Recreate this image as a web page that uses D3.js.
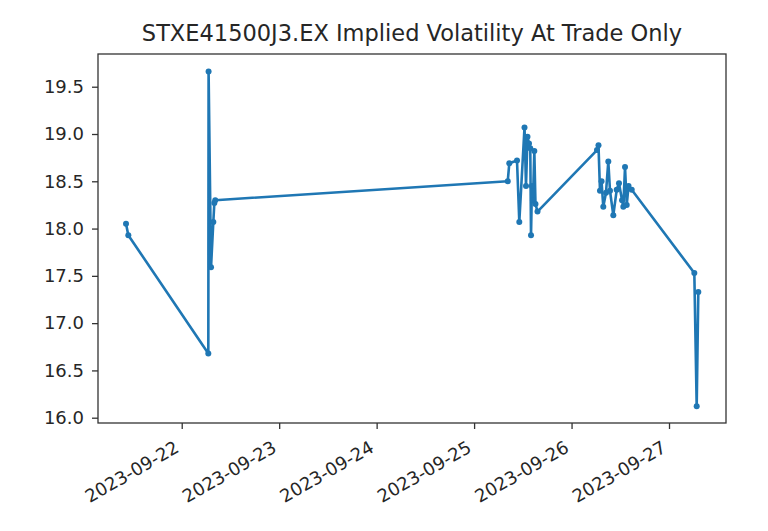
<!DOCTYPE html>
<html>
<head>
<meta charset="utf-8">
<script src="https://cdn.jsdelivr.net/npm/d3@7"></script>
<style>
  body { margin: 0; background: #fff; }
  text { font-family: "DejaVu Sans", sans-serif; fill: #262626; }
</style>
</head>
<body>
<div id="chart"></div>
<script>
// trade times (UTC) and implied vol
var tradeTimes = [
  "2023-09-21 10:17", "2023-09-21 10:51",
  "2023-09-22 06:33", "2023-09-22 06:37", "2023-09-22 07:13", "2023-09-22 07:47", "2023-09-22 08:02", "2023-09-22 08:15",
  "2023-09-25 08:17", "2023-09-25 08:40", "2023-09-25 10:34", "2023-09-25 11:08", "2023-09-25 12:25", "2023-09-25 12:47",
  "2023-09-25 13:09", "2023-09-25 13:31", "2023-09-25 13:50", "2023-09-25 14:01", "2023-09-25 14:15", "2023-09-25 14:30",
  "2023-09-25 14:50", "2023-09-25 15:07", "2023-09-25 15:37",
  "2023-09-26 06:16", "2023-09-26 06:38", "2023-09-26 07:00", "2023-09-26 07:23", "2023-09-26 07:49", "2023-09-26 08:29",
  "2023-09-26 09:03", "2023-09-26 09:28", "2023-09-26 10:17", "2023-09-26 11:07", "2023-09-26 11:41", "2023-09-26 12:26",
  "2023-09-26 12:45", "2023-09-26 13:10", "2023-09-26 13:35", "2023-09-26 14:02", "2023-09-26 14:49",
  "2023-09-27 06:14", "2023-09-27 06:49", "2023-09-27 07:13"
]
var impliedVol = [
  18.05, 17.93,
  16.68, 19.66, 17.59, 18.07, 18.27, 18.30,
  18.50, 18.69, 18.72, 18.07, 19.07, 18.45,
  18.97, 18.90, 18.85, 17.93, 18.45, 18.30,
  18.82, 18.26, 18.18,
  18.83, 18.88, 18.40, 18.50, 18.23, 18.38,
  18.71, 18.40, 18.14, 18.41, 18.48, 18.30,
  18.23, 18.65, 18.25, 18.45, 18.41,
  17.53, 16.12, 17.33
]
var yTicks = [16.0, 16.5, 17.0, 17.5, 18.0, 18.5, 19.0, 19.5]
var xTickDays = ["2023-09-22", "2023-09-23", "2023-09-24", "2023-09-25", "2023-09-26", "2023-09-27"]
var xDomain = ["2023-09-21 03:23", "2023-09-27 14:02"]
var yDomain = [15.944, 19.846]
var title = "STXE41500J3.EX Implied Volatility At Trade Only"

const width = 768, height = 531
const box = {left: 98, right: 726, top: 54, bottom: 423}
const blue = "#1f77b4"

var parseTime = d3.utcParse("%Y-%m-%d %H:%M"), parseDay = d3.utcParse("%Y-%m-%d")
var data = tradeTimes.map((t, i) => ({t: parseTime(t), v: impliedVol[i]}))

var svg = d3.select("#chart").append("svg").attr("width", width).attr("height", height)

var x = d3.scaleUtc().domain(xDomain.map(parseTime)).range([box.left, box.right])
var y = d3.scaleLinear().domain(yDomain).range([box.bottom, box.top])

// y axis
var yAxis = d3.axisLeft(y).tickValues(yTicks).tickSize(6).tickPadding(8).tickFormat(d3.format(".1f"))
var gy = svg.append("g").attr("transform", "translate(" + box.left + ",0)").call(yAxis)
gy.select(".domain").remove()
gy.selectAll(".tick line").attr("stroke", "#333").attr("stroke-width", 1.3)
gy.selectAll(".tick text").style("font-size", "18px").attr("fill", "#262626")

// x axis with rotated labels (30 deg, right aligned)
var xAxis = d3.axisBottom(x).tickValues(xTickDays.map(parseDay)).tickSize(6).tickFormat(d3.utcFormat("%Y-%m-%d"))
var gx = svg.append("g").attr("transform", "translate(0," + box.bottom + ")").call(xAxis)
gx.select(".domain").remove()
gx.selectAll(".tick line").attr("stroke", "#333").attr("stroke-width", 1.3)
gx.selectAll(".tick text")
  .style("font-size", "18px").attr("fill", "#262626")
  .attr("text-anchor", "end")
  .attr("y", 0).attr("dy", 0)
  .attr("transform", "translate(-2,28) rotate(-30)")

// line + markers
var line = d3.line().x(d => x(d.t)).y(d => y(d.v))
svg.append("path").datum(data).attr("d", line)
  .attr("fill", "none").attr("stroke", blue).attr("stroke-width", 2.6).attr("stroke-linejoin", "round")
svg.selectAll("circle.pt").data(data).enter().append("circle").attr("class", "pt")
  .attr("cx", d => x(d.t)).attr("cy", d => y(d.v)).attr("r", 3).attr("fill", blue)

// frame
svg.append("rect").attr("x", box.left).attr("y", box.top)
  .attr("width", box.right - box.left).attr("height", box.bottom - box.top)
  .attr("fill", "none").attr("stroke", "#333").attr("stroke-width", 1.3)

svg.append("text").attr("x", (box.left + box.right) / 2).attr("y", 41)
  .attr("text-anchor", "middle").style("font-size", "22.5px").text(title)
</script>
</body>
</html>
